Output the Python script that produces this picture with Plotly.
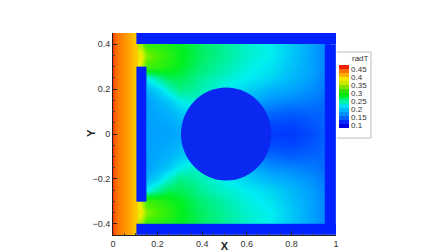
import plotly.graph_objects as go

x_cols = [0.1, 0.125, 0.15, 0.2, 0.25, 0.3, 0.35, 0.4, 0.5, 0.6, 0.7, 0.8, 0.9, 0.95]
y_rows = [0.4, 0.35, 0.3, 0.25, 0.2, 0.15, 0.1, 0.05, 0.0]
top_half = [
    [0.33, 0.33, 0.285, 0.275, 0.265, 0.25, 0.24, 0.23, 0.215, 0.2, 0.19, 0.17, 0.15, 0.14],
    [0.37, 0.37, 0.32, 0.295, 0.275, 0.255, 0.24, 0.23, 0.215, 0.2, 0.19, 0.17, 0.15, 0.14],
    [0.36, 0.35, 0.29, 0.28, 0.265, 0.25, 0.235, 0.225, 0.21, 0.195, 0.185, 0.167, 0.15, 0.14],
    [0.35, 0.30, 0.19, 0.215, 0.235, 0.235, 0.225, 0.215, 0.2, 0.19, 0.178, 0.162, 0.148, 0.138],
    [0.35, 0.30, 0.16, 0.175, 0.20, 0.22, 0.215, 0.205, 0.19, 0.175, 0.16, 0.152, 0.142, 0.135],
    [0.35, 0.30, 0.15, 0.16, 0.17, 0.19, 0.20, 0.20, 0.185, 0.16, 0.145, 0.14, 0.135, 0.13],
    [0.35, 0.30, 0.15, 0.155, 0.16, 0.17, 0.18, 0.18, 0.17, 0.145, 0.13, 0.125, 0.128, 0.128],
    [0.35, 0.30, 0.15, 0.152, 0.155, 0.16, 0.165, 0.165, 0.15, 0.13, 0.118, 0.115, 0.122, 0.127],
    [0.35, 0.30, 0.15, 0.15, 0.152, 0.155, 0.16, 0.16, 0.14, 0.12, 0.11, 0.11, 0.118, 0.125],
]
strip_x = [0.0, 0.02, 0.05, 0.08, 0.1]
strip_y = [-0.45, 0.45]
strip_z = [[0.458, 0.44, 0.425, 0.41, 0.39], [0.458, 0.44, 0.425, 0.41, 0.39]]
wall_value = [[0.1]]
tick_vals = [0.1, 0.15, 0.2, 0.25, 0.3, 0.35, 0.4, 0.45]
tick_text = ["0.1", "0.15", "0.2", "0.25", "0.3", "0.35", "0.4", "0.45"]
legend_levels = [0.1]
band_colors = ["#0000e0", "#0028ff", "#0060ff", "#0090ff", "#00b8ff", "#00e0f0", "#00f0b0", "#00f060",
               "#00e810", "#30e000", "#80e000", "#c8e800", "#f0e800", "#ffb000", "#ff7000", "#f02000"]

zmin, zmax = 0.08, 0.475
anchors = [(0.08, "#0000f0"), (0.10, "#0020ff"), (0.15, "#00a0ff"), (0.19, "#00f0f0"),
           (0.25, "#00f020"), (0.30, "#50f000"), (0.36, "#f0f000"), (0.41, "#ffb000"),
           (0.45, "#ff6000"), (0.475, "#f00000")]
cs = [[(v - zmin) / (zmax - zmin), c] for v, c in anchors]
band_cs = []
for i, c in enumerate(band_colors):
    band_cs += [[i / len(band_colors), c], [(i + 1) / len(band_colors), c]]

fig = go.Figure()
rows = top_half + top_half[-2::-1]
ys = y_rows + [-v for v in y_rows[-2::-1]]
common = dict(colorscale=cs, zmin=zmin, zmax=zmax, showscale=False, hoverinfo="skip")
fig.add_trace(go.Heatmap(x=x_cols, y=ys, z=rows, zsmooth="best", **common))
fig.add_trace(go.Heatmap(x=strip_x, y=strip_y, z=strip_z, zsmooth="best", **common))
for (x0, x1, y0, y1) in [(0.105, 1, 0.4, 0.45), (0.105, 1, -0.45, -0.4), (0.95, 1, -0.4, 0.4), (0.105, 0.15, -0.3, 0.3)]:
    fig.add_trace(go.Heatmap(x=[x0, x1], y=[y0, y1], z=wall_value, **common))
fig.add_trace(go.Scatter(
    x=[2], y=[2], mode="markers", hoverinfo="skip", showlegend=False,
    marker=dict(color=legend_levels, colorscale=band_cs, cmin=zmin, cmax=zmax, showscale=True,
                colorbar=dict(len=63, lenmode="pixels", thickness=10, x=1.0135, xanchor="left", xpad=0,
                              y=0.842, yanchor="top", ypad=0, outlinewidth=0, tickvals=tick_vals, ticktext=tick_text,
                              ticks="", ticklabelposition="outside", tickfont=dict(size=8, color="#333", family="Liberation Sans")))))
fig.add_shape(type="circle", x0=0.305, x1=0.71, y0=-0.207, y1=0.207, fillcolor="#0a28f0", line_width=0, layer="above")
fig.add_shape(type="path", xref="paper", yref="paper", path="M 1.004 0.906 L 1.157 0.906 L 1.157 0.48 L 1.004 0.48",
              line=dict(color="#bbbbbb", width=1))
fig.add_annotation(text="radT", xref="paper", yref="paper", x=1.108, y=0.876, xanchor="center", yanchor="middle", showarrow=False,
                   font=dict(size=8, color="#333", family="Liberation Sans"))
fig.add_annotation(text="<b>Y</b>", xref="paper", yref="paper", x=-0.0987, y=0.505, xanchor="center", yanchor="middle", textangle=-90, showarrow=False,
                   font=dict(size=11, color="#222", family="Liberation Sans"))
axis = dict(showgrid=False, zeroline=False, ticks="inside", ticklen=4, tickcolor="#222", showline=True, linecolor="#222",
            linewidth=1, tickfont=dict(size=9, color="#333", family="Liberation Sans"),
            minor=dict(ticks="inside", ticklen=2, tickcolor="#444"))
fig.update_xaxes(range=[0, 1], dtick=0.2, tick0=0, tickformat="~g", automargin=False, title=dict(text="<b>X</b>", font=dict(size=11, color="#222", family="Liberation Sans"), standoff=2), **axis)
fig.update_yaxes(range=[-0.45, 0.45], dtick=0.2, tick0=0, tickformat="~g", automargin=False, **axis)
fig.update_layout(width=440, height=244, margin=dict(l=105, r=112, t=25, b=17, autoexpand=False), plot_bgcolor="white", paper_bgcolor="white", showlegend=False)
fig.write_html("out.html")
